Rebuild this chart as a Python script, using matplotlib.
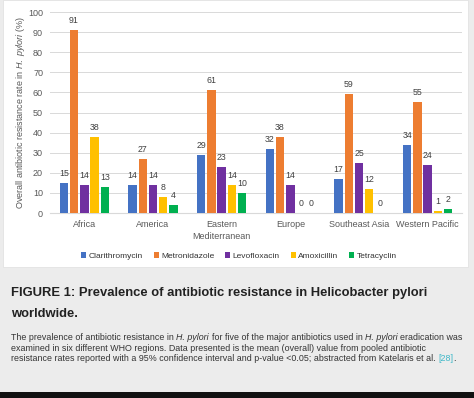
import numpy as np
import matplotlib
matplotlib.use('Agg')
import matplotlib.pyplot as plt
from matplotlib.patches import Rectangle

plt.rcParams['font.family'] = ['Liberation Sans', 'DejaVu Sans']
plt.rcParams['mathtext.fontset'] = 'custom'
plt.rcParams['mathtext.rm'] = 'Liberation Sans'
plt.rcParams['mathtext.it'] = 'Liberation Sans:italic'

regions = ['Africa', 'America', 'Eastern\nMediterranean', 'Europe', 'Southeast Asia', 'Western Pacific']
antibiotics = ['Clarithromycin', 'Metronidazole', 'Levofloxacin', 'Amoxicillin', 'Tetracyclin']
clarithromycin = [15, 14, 29, 32, 17, 34]
metronidazole = [91, 27, 61, 38, 59, 55]
levofloxacin = [14, 14, 23, 14, 25, 24]
amoxicillin = [38, 8, 14, 0, 12, 1]
tetracyclin = [13, 4, 10, 0, 0, 2]
colors = ['#4472C4', '#ED7D31', '#7030A0', '#FFC000', '#00B050']
yticks = [0, 10, 20, 30, 40, 50, 60, 70, 80, 90, 100]

W, H = 474, 398
fig = plt.figure(figsize=(W / 100, H / 100), dpi=100)
fig.patch.set_facecolor('#ececec')

# white chart panel, black strip at the bottom
fig.patches.append(Rectangle((3 / W, 1 - 267 / H), 465 / W, 267 / H, transform=fig.transFigure,
                             facecolor='white', edgecolor='#e2e2e2', lw=0.6, zorder=-5))
fig.patches.append(Rectangle((0, 0), 1, 6 / H, transform=fig.transFigure,
                             facecolor='#111111', edgecolor='none', zorder=-5))

ax = fig.add_axes([50 / W, 1 - 213 / H, 412 / W, 201 / H])
ax.set_zorder(2)
ax.set_facecolor('white')

series = [clarithromycin, metronidazole, levofloxacin, amoxicillin, tetracyclin]
x = np.arange(len(regions))
pitch = 0.15
width = 0.122
txt = '#595959'
for i, (vals, c, name) in enumerate(zip(series, colors, antibiotics)):
    pos = x + (i - 2) * pitch
    ax.bar(pos, vals, width, color=c, label=name, zorder=3)
    for p, v in zip(pos, vals):
        ax.text(p, v + 2.5, str(v), ha='center', va='bottom', fontsize=6.3, color='#404040')

ax.set_ylim(0, 100)
ax.set_xlim(-0.5, len(regions) - 0.5)
ax.set_yticks(yticks)
ax.yaxis.grid(True, color='#d9d9d9', lw=0.7, zorder=0)
ax.tick_params(axis='both', length=0, labelsize=6.5, colors=txt, pad=5)
ax.set_xticks(x)
ax.set_xticklabels(regions, linespacing=1.5)
for s in ['top', 'right', 'left']:
    ax.spines[s].set_visible(False)
ax.spines['bottom'].set_color('#d9d9d9')
ax.set_ylabel(r'Overall antibiotic resistance rate in $\mathit{H.\ pylori}$ (%)',
              fontsize=6.5, color=txt, labelpad=1)

ax.legend(loc='center', bbox_to_anchor=(239 / W, 1 - 256 / H), bbox_transform=fig.transFigure,
          ncol=5, frameon=False, fontsize=6.0, handlelength=0.6, handleheight=0.6,
          handletextpad=0.3, columnspacing=1.3, labelcolor='#333333')

# caption
fig.text(11 / W, 1 - 293 / H, 'FIGURE 1: Prevalence of antibiotic resistance in Helicobacter pylori',
         fontsize=9.4, fontweight='bold', color='#222222', va='center')
fig.text(11 / W, 1 - 314 / H, 'worldwide.', fontsize=9.4, fontweight='bold', color='#222222', va='center')

body_color = '#333333'
cite_color = '#3fb8c8'
fs = 6.4
# (text, style, color, space before?)
lines = [
    [('The prevalence of antibiotic resistance in', 'normal', body_color, False),
     ('H. pylori', 'italic', body_color, True),
     ('for five of the major antibiotics used in', 'normal', body_color, True),
     ('H. pylori', 'italic', body_color, True),
     ('eradication was', 'normal', body_color, True)],
    [('examined in six different WHO regions. Data presented is the mean (overall) value from pooled antibiotic',
      'normal', body_color, False)],
    [('resistance rates reported with a 95% confidence interval and p-value <0.05; abstracted from Katelaris et al.',
      'normal', body_color, False),
     ('[28]', 'normal', cite_color, True),
     ('.', 'normal', body_color, False)],
]
placed = []
for k, line in enumerate(lines):
    y = 1 - (340 + k * 10.7) / H
    row = []
    for s, style, c, sp in line:
        t = fig.text(11 / W, y, s, fontsize=fs, style=style, color=c, va='baseline')
        row.append((t, sp))
    placed.append(row)

fig.canvas.draw()
r = fig.canvas.get_renderer()
probe = fig.text(0, 0, 'x x', fontsize=fs)
probe2 = fig.text(0, 0, 'xx', fontsize=fs)
space = probe.get_window_extent(r).width - probe2.get_window_extent(r).width
probe.remove()
probe2.remove()
for row in placed:
    xcur = 11
    for t, sp in row:
        if sp:
            xcur += space
        t.set_x(xcur / W)
        xcur += t.get_window_extent(r).width

fig.savefig('out.png', dpi=100, facecolor=fig.get_facecolor())
